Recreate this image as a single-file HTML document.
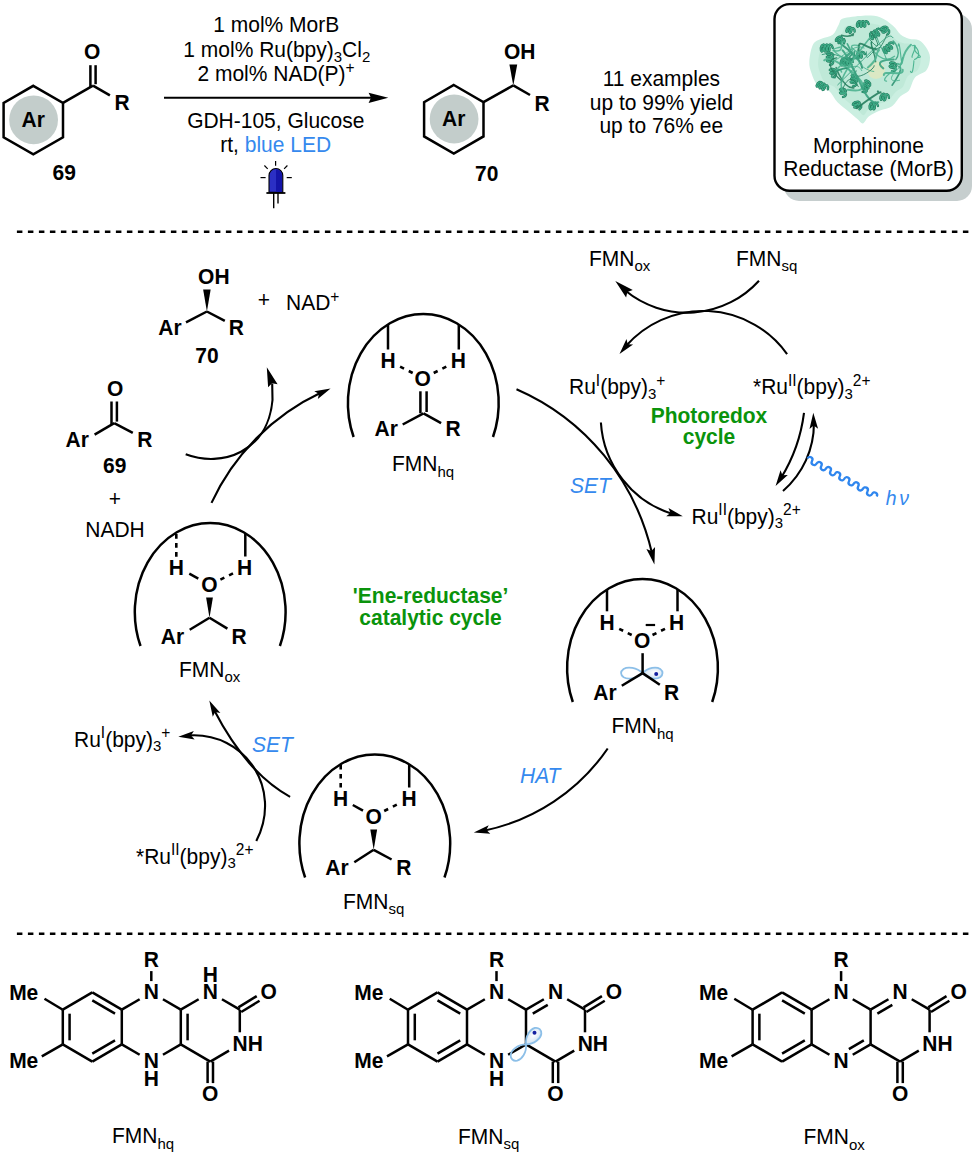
<!DOCTYPE html>
<html><head><meta charset="utf-8"><style>
html,body{margin:0;padding:0;background:#fff;}
svg{display:block;}
text{font-family:"Liberation Sans",sans-serif;}
</style></head><body>
<svg width="975" height="1156" viewBox="0 0 975 1156">
<rect width="975" height="1156" fill="#fff"/>
<line x1="16.9" y1="231.7" x2="969" y2="231.7" stroke="#000" stroke-width="2.6" stroke-dasharray="5.5 5.5"/>
<line x1="16.9" y1="933.8" x2="969" y2="933.8" stroke="#000" stroke-width="2.6" stroke-dasharray="5.5 5.5"/>
<circle cx="33.6" cy="119.8" r="24.4" fill="#c3cdcb"/>
<polygon points="33.3,85.8 63,102.95 63,137.25 33.3,154.4 3.6,137.25 3.6,102.95" fill="none" stroke="#000" stroke-width="2.5" stroke-linejoin="miter"/>
<text x="33.3" y="126.6" transform="translate(0 -4.43) scale(1 1.035)" font-size="21" font-weight="bold" text-anchor="middle" fill="#000" font-style="normal" >Ar</text>
<line x1="63" y1="102.95" x2="93" y2="85.6" stroke="#000" stroke-width="2.5" />
<line x1="90.4" y1="87" x2="90.4" y2="65.2" stroke="#000" stroke-width="2.5" />
<line x1="95.6" y1="84.2" x2="95.6" y2="65.2" stroke="#000" stroke-width="2.5" />
<text x="92.2" y="59.2" transform="translate(0 -2.07) scale(1 1.035)" font-size="21" font-weight="bold" text-anchor="middle" fill="#000" font-style="normal" >O</text>
<line x1="93" y1="85.6" x2="109.9" y2="95.4" stroke="#000" stroke-width="2.5" />
<text x="122.2" y="110.4" transform="translate(0 -3.86) scale(1 1.035)" font-size="21" font-weight="bold" text-anchor="middle" fill="#000" font-style="normal" >R</text>
<text x="64.3" y="180.5" transform="translate(0 -6.32) scale(1 1.035)" font-size="21" font-weight="bold" text-anchor="middle" fill="#000" font-style="normal" >69</text>
<line x1="164" y1="97.8" x2="375" y2="97.8" stroke="#000" stroke-width="2.1" />
<path d="M388.3,97.8 L368.6,102.9 L371,97.8 L368.6,92.7 Z" fill="#000"/>
<text x="276.3" y="32" transform="translate(0 -1.12) scale(1 1.035)" font-size="21" font-weight="normal" text-anchor="middle" fill="#000" font-style="normal" >1 mol% MorB</text>
<text x="276.8" y="56.9" transform="translate(0 -1.99) scale(1 1.035)" font-size="21" font-weight="normal" text-anchor="middle" fill="#000" font-style="normal" >1 mol% Ru(bpy)<tspan font-size="15" dy="4.6">3</tspan><tspan dy="-4.6">Cl</tspan><tspan font-size="15" dy="4.6">2</tspan></text>
<text x="276" y="81.2" transform="translate(0 -2.84) scale(1 1.035)" font-size="21" font-weight="normal" text-anchor="middle" fill="#000" font-style="normal" >2 mol% NAD(P)<tspan font-size="15.5" dy="-8.2">+</tspan></text>
<text x="275.8" y="127.7" transform="translate(0 -4.47) scale(1 1.035)" font-size="21" font-weight="normal" text-anchor="middle" fill="#000" font-style="normal" >GDH-105, Glucose</text>
<text x="275.7" y="152.2" transform="translate(0 -5.33) scale(1 1.035)" font-size="21" font-weight="normal" text-anchor="middle" fill="#000" font-style="normal" >rt, <tspan fill="#3589ee">blue LED</tspan></text>
<g>
<path d="M269,192.4 L269,175.5 A6.9,7 0 0 1 282.8,175.5 L282.8,192.4 Z" fill="#2b2fc4" stroke="#000" stroke-width="1.1"/>
<path d="M276,169.5 A6,6.5 0 0 1 282,175.5 L282,192 L276,192 Z" fill="#1414a8"/>
<line x1="266.4" y1="193" x2="285.4" y2="193" stroke="#000" stroke-width="1.8"/>
<line x1="273.7" y1="193" x2="273.7" y2="208.3" stroke="#000" stroke-width="1.4"/>
<line x1="278" y1="193" x2="278" y2="203.5" stroke="#000" stroke-width="1.4"/>
<line x1="275.6" y1="160.9" x2="275.6" y2="165.8" stroke="#000" stroke-width="1.2"/>
<line x1="264.4" y1="165.5" x2="267.7" y2="168.8" stroke="#000" stroke-width="1.2"/>
<line x1="287.4" y1="165.5" x2="284.1" y2="168.8" stroke="#000" stroke-width="1.2"/>
<line x1="260.5" y1="177.6" x2="265.6" y2="177.6" stroke="#000" stroke-width="1.2"/>
<line x1="286.7" y1="177.6" x2="291.8" y2="177.6" stroke="#000" stroke-width="1.2"/>
</g>
<circle cx="454.1" cy="119" r="24.4" fill="#c3cdcb"/>
<polygon points="453.8,85 483.5,102.15 483.5,136.45 453.8,153.6 424.1,136.45 424.1,102.15" fill="none" stroke="#000" stroke-width="2.5" stroke-linejoin="miter"/>
<text x="453.8" y="125.8" transform="translate(0 -4.4) scale(1 1.035)" font-size="21" font-weight="bold" text-anchor="middle" fill="#000" font-style="normal" >Ar</text>
<line x1="483.5" y1="102.15" x2="513.3" y2="85.4" stroke="#000" stroke-width="2.5" />
<path d="M513.3,85.4 L517.2,64.5 L509.4,64.5 Z" fill="#000"/>
<text x="519.8" y="59.5" transform="translate(0 -2.08) scale(1 1.035)" font-size="21" font-weight="bold" text-anchor="middle" fill="#000" font-style="normal" >OH</text>
<line x1="513.3" y1="85.4" x2="530" y2="95" stroke="#000" stroke-width="2.5" />
<text x="542" y="110.6" transform="translate(0 -3.87) scale(1 1.035)" font-size="21" font-weight="bold" text-anchor="middle" fill="#000" font-style="normal" >R</text>
<text x="486.8" y="180.8" transform="translate(0 -6.33) scale(1 1.035)" font-size="21" font-weight="bold" text-anchor="middle" fill="#000" font-style="normal" >70</text>
<text x="661.4" y="85.8" transform="translate(0 -3) scale(1 1.035)" font-size="21" font-weight="normal" text-anchor="middle" fill="#000" font-style="normal" >11 examples</text>
<text x="661.5" y="109.6" transform="translate(0 -3.84) scale(1 1.035)" font-size="21" font-weight="normal" text-anchor="middle" fill="#000" font-style="normal" >up to 99% yield</text>
<text x="661.3" y="133.1" transform="translate(0 -4.66) scale(1 1.035)" font-size="21" font-weight="normal" text-anchor="middle" fill="#000" font-style="normal" >up to 76% ee</text>
<rect x="784" y="14" width="188" height="187" rx="15" fill="#c6cece"/>
<rect x="774.5" y="4.1" width="187.3" height="186.6" rx="15" fill="#fff" stroke="#000" stroke-width="2.4"/>
<text x="868.5" y="152.8" transform="translate(0 -5.35) scale(1 1.035)" font-size="21" font-weight="normal" text-anchor="middle" fill="#000" font-style="normal" >Morphinone</text>
<text x="868.5" y="176.2" transform="translate(0 -6.17) scale(1 1.035)" font-size="21" font-weight="normal" text-anchor="middle" fill="#000" font-style="normal" >Reductase (MorB)</text>
<g><path d="M843,18.6 C847.03,17.15 856.83,15.93 863,15.7 C869.17,15.47 875,15.52 880,17.2 C885,18.88 889.58,22.93 893,25.8 C896.42,28.67 897.83,32.25 900.5,34.4 C903.17,36.55 905.92,37.73 909,38.7 C912.08,39.67 916.17,38.77 919,40.2 C921.83,41.63 924.17,44.43 926,47.3 C927.83,50.17 929.93,53.57 930,57.4 C930.07,61.23 928.9,66.95 926.4,70.3 C923.9,73.65 917.9,74.15 915,77.5 C912.1,80.85 911.42,87.28 909,90.4 C906.58,93.52 903.33,93.57 900.5,96.2 C897.67,98.83 895.42,103.82 892,106.2 C888.58,108.58 883.83,108.82 880,110.5 C876.17,112.18 871.83,114.15 869,116.3 C866.17,118.45 864.93,122.93 863,123.4 C861.07,123.87 860,121.25 857.4,119.1 C854.8,116.95 850.75,113.37 847.4,110.5 C844.05,107.63 840.42,105.25 837.3,101.9 C834.18,98.55 832.05,93.27 828.7,90.4 C825.35,87.53 820.07,87.57 817.2,84.7 C814.33,81.83 812.82,77.03 811.5,73.2 C810.18,69.37 809.05,66.48 809.3,61.7 C809.55,56.92 810.97,48.33 813,44.5 C815.03,40.67 818.17,40.38 821.5,38.7 C824.83,37.02 830.12,36.78 833,34.4 C835.88,32.02 837.13,27.03 838.8,24.4 C840.47,21.77 838.97,20.05 843,18.6 Z" fill="#cbefe1"/>
<path d="M846.75,26.01 C850.18,24.78 858.51,23.74 863.75,23.54 C868.99,23.35 873.95,23.39 878.2,24.82 C882.45,26.25 886.35,29.69 889.25,32.13 C892.15,34.57 893.36,37.61 895.62,39.44 C897.89,41.27 900.23,42.27 902.85,43.09 C905.47,43.92 908.94,43.15 911.35,44.37 C913.76,45.59 915.74,47.97 917.3,50.41 C918.86,52.84 920.64,55.73 920.7,58.99 C920.76,62.25 919.76,67.11 917.64,69.95 C915.51,72.8 910.42,73.23 907.95,76.08 C905.49,78.92 904.9,84.39 902.85,87.04 C900.8,89.69 898.03,89.73 895.62,91.97 C893.22,94.21 891.3,98.44 888.4,100.47 C885.5,102.5 881.46,102.69 878.2,104.12 C874.94,105.56 871.26,107.23 868.85,109.05 C866.44,110.88 865.39,114.69 863.75,115.09 C862.11,115.49 861.2,113.26 858.99,111.44 C856.78,109.61 853.34,106.56 850.49,104.12 C847.64,101.69 844.55,99.66 841.9,96.82 C839.26,93.97 837.44,89.48 834.6,87.04 C831.75,84.6 827.26,84.63 824.82,82.2 C822.38,79.76 821.09,75.68 819.97,72.42 C818.86,69.16 817.89,66.71 818.11,62.64 C818.32,58.58 819.52,51.28 821.25,48.02 C822.98,44.77 825.64,44.53 828.47,43.09 C831.31,41.66 835.8,41.47 838.25,39.44 C840.7,37.41 841.76,33.18 843.18,30.94 C844.6,28.7 843.32,27.24 846.75,26.01 Z" fill="#bfe9d8"/>
<ellipse cx="876" cy="70" rx="9" ry="9" fill="#dbe8c4"/>
<path d="M823.1,48 L822.93,50.52 L821.95,51.56 L820.97,50.52 L820.81,48 L821.78,45.48 L823.57,44.44 L825.36,45.48 L826.34,48 L826.17,50.52 L825.19,51.56 L824.21,50.52 L824.04,48 L825.02,45.48 L826.81,44.44 L828.6,45.48 L829.58,48 L829.41,50.52 L828.43,51.56 L827.45,50.52 L827.28,48 L828.26,45.48 L830.05,44.44 L831.83,45.48 L832.81,48 " fill="none" stroke="#1f7a5c" stroke-width="2.3" stroke-linejoin="round" stroke-linecap="round"/>
<path d="M823.1,48 L822.93,50.52 L821.95,51.56 L820.97,50.52 L820.81,48 L821.78,45.48 L823.57,44.44 L825.36,45.48 L826.34,48 L826.17,50.52 L825.19,51.56 L824.21,50.52 L824.04,48 L825.02,45.48 L826.81,44.44 L828.6,45.48 L829.58,48 L829.41,50.52 L828.43,51.56 L827.45,50.52 L827.28,48 L828.26,45.48 L830.05,44.44 L831.83,45.48 L832.81,48 " fill="none" stroke="#3fae88" stroke-width="1.1" stroke-linejoin="round" stroke-linecap="round"/>
<path d="M848.36,29.4 L847.62,31.29 L846.68,31.83 L846.31,30.81 L846.96,28.89 L848.48,27.29 L850.2,27.03 L851.35,28.34 L851.48,30.54 L850.74,32.42 L849.8,32.97 L849.43,31.94 L850.08,30.03 L851.6,28.43 L853.32,28.17 L854.47,29.48 L854.6,31.67 " fill="none" stroke="#1f7a5c" stroke-width="2.3" stroke-linejoin="round" stroke-linecap="round"/>
<path d="M848.36,29.4 L847.62,31.29 L846.68,31.83 L846.31,30.81 L846.96,28.89 L848.48,27.29 L850.2,27.03 L851.35,28.34 L851.48,30.54 L850.74,32.42 L849.8,32.97 L849.43,31.94 L850.08,30.03 L851.6,28.43 L853.32,28.17 L854.47,29.48 L854.6,31.67 " fill="none" stroke="#3fae88" stroke-width="1.1" stroke-linejoin="round" stroke-linecap="round"/>
<path d="M871.95,35.76 L873.03,37.8 L872.79,39.04 L871.6,38.63 L870.37,36.67 L870.06,34.19 L871.06,32.5 L873.03,32.47 L875.02,33.99 L876.1,36.03 L875.87,37.27 L874.67,36.86 L873.44,34.9 L873.13,32.41 L874.13,30.73 L876.1,30.7 L878.09,32.22 L879.17,34.26 L878.94,35.5 L877.74,35.08 L876.52,33.13 L876.2,30.64 L877.21,28.96 L879.17,28.93 L881.16,30.44 " fill="none" stroke="#1f7a5c" stroke-width="2.3" stroke-linejoin="round" stroke-linecap="round"/>
<path d="M871.95,35.76 L873.03,37.8 L872.79,39.04 L871.6,38.63 L870.37,36.67 L870.06,34.19 L871.06,32.5 L873.03,32.47 L875.02,33.99 L876.1,36.03 L875.87,37.27 L874.67,36.86 L873.44,34.9 L873.13,32.41 L874.13,30.73 L876.1,30.7 L878.09,32.22 L879.17,34.26 L878.94,35.5 L877.74,35.08 L876.52,33.13 L876.2,30.64 L877.21,28.96 L879.17,28.93 L881.16,30.44 " fill="none" stroke="#3fae88" stroke-width="1.1" stroke-linejoin="round" stroke-linecap="round"/>
<path d="M832.7,70.32 L830.73,70.62 L829.79,70.08 L830.48,69.26 L832.45,68.86 L834.57,69.36 L835.65,70.71 L835.09,72.34 L833.27,73.53 L831.29,73.83 L830.35,73.29 L831.05,72.47 L833.01,72.07 L835.13,72.58 L836.21,73.92 L835.66,75.55 L833.84,76.74 " fill="none" stroke="#1f7a5c" stroke-width="2.3" stroke-linejoin="round" stroke-linecap="round"/>
<path d="M832.7,70.32 L830.73,70.62 L829.79,70.08 L830.48,69.26 L832.45,68.86 L834.57,69.36 L835.65,70.71 L835.09,72.34 L833.27,73.53 L831.29,73.83 L830.35,73.29 L831.05,72.47 L833.01,72.07 L835.13,72.58 L836.21,73.92 L835.66,75.55 L833.84,76.74 " fill="none" stroke="#3fae88" stroke-width="1.1" stroke-linejoin="round" stroke-linecap="round"/>
<path d="M843,90.32 L840.88,90.25 L840.01,89.5 L840.88,88.75 L843,88.69 L845.12,89.59 L845.99,91.17 L845.12,92.75 L843,93.65 L840.88,93.58 L840.01,92.83 L840.88,92.09 L843,92.02 L845.12,92.92 L845.99,94.5 L845.12,96.08 L843,96.98 " fill="none" stroke="#1f7a5c" stroke-width="2.3" stroke-linejoin="round" stroke-linecap="round"/>
<path d="M843,90.32 L840.88,90.25 L840.01,89.5 L840.88,88.75 L843,88.69 L845.12,89.59 L845.99,91.17 L845.12,92.75 L843,93.65 L840.88,93.58 L840.01,92.83 L840.88,92.09 L843,92.02 L845.12,92.92 L845.99,94.5 L845.12,96.08 L843,96.98 " fill="none" stroke="#3fae88" stroke-width="1.1" stroke-linejoin="round" stroke-linecap="round"/>
<path d="M856.41,103.99 L854.21,105.06 L852.85,104.73 L853.25,103.39 L855.28,102.02 L857.87,101.61 L859.61,102.6 L859.6,104.61 L857.95,106.65 L855.75,107.72 L854.39,107.4 L854.78,106.06 L856.82,104.68 L859.41,104.27 L861.15,105.27 L861.14,107.27 L859.49,109.31 " fill="none" stroke="#1f7a5c" stroke-width="2.3" stroke-linejoin="round" stroke-linecap="round"/>
<path d="M856.41,103.99 L854.21,105.06 L852.85,104.73 L853.25,103.39 L855.28,102.02 L857.87,101.61 L859.61,102.6 L859.6,104.61 L857.95,106.65 L855.75,107.72 L854.39,107.4 L854.78,106.06 L856.82,104.68 L859.41,104.27 L861.15,105.27 L861.14,107.27 L859.49,109.31 " fill="none" stroke="#3fae88" stroke-width="1.1" stroke-linejoin="round" stroke-linecap="round"/>
<path d="M893.27,64.49 L890.98,63.97 L890.18,62.95 L891.29,62.27 L893.61,62.56 L895.74,63.9 L896.4,65.75 L895.15,67.26 L892.68,67.79 L890.4,67.27 L889.6,66.25 L890.7,65.57 L893.02,65.86 L895.16,67.2 L895.82,69.05 L894.57,70.56 L892.1,71.09 " fill="none" stroke="#1f7a5c" stroke-width="2.3" stroke-linejoin="round" stroke-linecap="round"/>
<path d="M893.27,64.49 L890.98,63.97 L890.18,62.95 L891.29,62.27 L893.61,62.56 L895.74,63.9 L896.4,65.75 L895.15,67.26 L892.68,67.79 L890.4,67.27 L889.6,66.25 L890.7,65.57 L893.02,65.86 L895.16,67.2 L895.82,69.05 L894.57,70.56 L892.1,71.09 " fill="none" stroke="#3fae88" stroke-width="1.1" stroke-linejoin="round" stroke-linecap="round"/>
<path d="M882.58,96.75 L882.06,99 L881.04,99.79 L880.36,98.7 L880.64,96.41 L881.96,94.3 L883.77,93.65 L885.25,94.88 L885.77,97.31 L885.25,99.56 L884.23,100.35 L883.55,99.26 L883.83,96.97 L885.14,94.86 L886.96,94.21 L888.44,95.44 L888.96,97.87 " fill="none" stroke="#1f7a5c" stroke-width="2.3" stroke-linejoin="round" stroke-linecap="round"/>
<path d="M882.58,96.75 L882.06,99 L881.04,99.79 L880.36,98.7 L880.64,96.41 L881.96,94.3 L883.77,93.65 L885.25,94.88 L885.77,97.31 L885.25,99.56 L884.23,100.35 L883.55,99.26 L883.83,96.97 L885.14,94.86 L886.96,94.21 L888.44,95.44 L888.96,97.87 " fill="none" stroke="#3fae88" stroke-width="1.1" stroke-linejoin="round" stroke-linecap="round"/>
<path d="M858.08,55.34 L858.41,57.32 L857.9,58.25 L857.1,57.55 L856.73,55.58 L857.27,53.44 L858.64,52.36 L860.31,52.91 L861.54,54.73 L861.87,56.71 L861.36,57.64 L860.56,56.94 L860.19,54.97 L860.73,52.83 L862.1,51.75 L863.77,52.3 L865,54.12 " fill="none" stroke="#1f7a5c" stroke-width="2.3" stroke-linejoin="round" stroke-linecap="round"/>
<path d="M858.08,55.34 L858.41,57.32 L857.9,58.25 L857.1,57.55 L856.73,55.58 L857.27,53.44 L858.64,52.36 L860.31,52.91 L861.54,54.73 L861.87,56.71 L861.36,57.64 L860.56,56.94 L860.19,54.97 L860.73,52.83 L862.1,51.75 L863.77,52.3 L865,54.12 " fill="none" stroke="#3fae88" stroke-width="1.1" stroke-linejoin="round" stroke-linecap="round"/>
<path d="M819.17,84.37 L817.99,86.24 L816.83,86.64 L816.6,85.44 L817.63,83.48 L819.53,82.02 L821.41,82.04 L822.37,83.65 L822.05,86.03 L820.87,87.91 L819.71,88.3 L819.48,87.1 L820.51,85.14 L822.41,83.68 L824.29,83.7 L825.24,85.31 L824.93,87.69 L823.75,89.57 L822.59,89.96 L822.35,88.76 L823.39,86.8 L825.29,85.34 L827.17,85.36 L828.12,86.98 L827.81,89.36 " fill="none" stroke="#1f7a5c" stroke-width="2.3" stroke-linejoin="round" stroke-linecap="round"/>
<path d="M819.17,84.37 L817.99,86.24 L816.83,86.64 L816.6,85.44 L817.63,83.48 L819.53,82.02 L821.41,82.04 L822.37,83.65 L822.05,86.03 L820.87,87.91 L819.71,88.3 L819.48,87.1 L820.51,85.14 L822.41,83.68 L824.29,83.7 L825.24,85.31 L824.93,87.69 L823.75,89.57 L822.59,89.96 L822.35,88.76 L823.39,86.8 L825.29,85.34 L827.17,85.36 L828.12,86.98 L827.81,89.36 " fill="none" stroke="#3fae88" stroke-width="1.1" stroke-linejoin="round" stroke-linecap="round"/>
<path d="M867.66,83.12 L865.72,81.89 L865.32,80.69 L866.56,80.44 L868.6,81.5 L870.11,83.47 L870.09,85.41 L868.42,86.4 L865.96,86.07 L864.02,84.84 L863.61,83.64 L864.86,83.39 L866.89,84.45 L868.41,86.42 L868.39,88.36 L866.72,89.35 L864.25,89.02 L862.31,87.79 L861.91,86.59 L863.15,86.34 L865.19,87.41 L866.7,89.38 L866.68,91.31 L865.01,92.3 L862.55,91.98 " fill="none" stroke="#1f7a5c" stroke-width="2.3" stroke-linejoin="round" stroke-linecap="round"/>
<path d="M867.66,83.12 L865.72,81.89 L865.32,80.69 L866.56,80.44 L868.6,81.5 L870.11,83.47 L870.09,85.41 L868.42,86.4 L865.96,86.07 L864.02,84.84 L863.61,83.64 L864.86,83.39 L866.89,84.45 L868.41,86.42 L868.39,88.36 L866.72,89.35 L864.25,89.02 L862.31,87.79 L861.91,86.59 L863.15,86.34 L865.19,87.41 L866.7,89.38 L866.68,91.31 L865.01,92.3 L862.55,91.98 " fill="none" stroke="#3fae88" stroke-width="1.1" stroke-linejoin="round" stroke-linecap="round"/>
<path d="M838.78,38.98 L837.22,40.68 L835.96,40.87 L835.92,39.59 L837.33,37.76 L839.54,36.6 L841.45,36.95 L842.13,38.78 L841.38,41.15 L839.81,42.86 L838.55,43.05 L838.51,41.77 L839.92,39.93 L842.13,38.77 L844.04,39.13 L844.72,40.95 L843.97,43.33 " fill="none" stroke="#1f7a5c" stroke-width="2.3" stroke-linejoin="round" stroke-linecap="round"/>
<path d="M838.78,38.98 L837.22,40.68 L835.96,40.87 L835.92,39.59 L837.33,37.76 L839.54,36.6 L841.45,36.95 L842.13,38.78 L841.38,41.15 L839.81,42.86 L838.55,43.05 L838.51,41.77 L839.92,39.93 L842.13,38.77 L844.04,39.13 L844.72,40.95 L843.97,43.33 " fill="none" stroke="#3fae88" stroke-width="1.1" stroke-linejoin="round" stroke-linecap="round"/>
<path d="M858.44,24 L858.41,26.04 L857.72,26.88 L857.03,26.04 L856.99,24 L857.88,21.96 L859.43,21.12 L860.98,21.96 L861.87,24 L861.83,26.04 L861.14,26.88 L860.45,26.04 L860.42,24 L861.31,21.96 L862.86,21.12 L864.4,21.96 L865.3,24 L865.26,26.04 L864.57,26.88 L863.88,26.04 L863.84,24 L864.74,21.96 L866.28,21.12 L867.83,21.96 L868.72,24 " fill="none" stroke="#1f7a5c" stroke-width="2.3" stroke-linejoin="round" stroke-linecap="round"/>
<path d="M858.44,24 L858.41,26.04 L857.72,26.88 L857.03,26.04 L856.99,24 L857.88,21.96 L859.43,21.12 L860.98,21.96 L861.87,24 L861.83,26.04 L861.14,26.88 L860.45,26.04 L860.42,24 L861.31,21.96 L862.86,21.12 L864.4,21.96 L865.3,24 L865.26,26.04 L864.57,26.88 L863.88,26.04 L863.84,24 L864.74,21.96 L866.28,21.12 L867.83,21.96 L868.72,24 " fill="none" stroke="#3fae88" stroke-width="1.1" stroke-linejoin="round" stroke-linecap="round"/>
<path d="M884.26,28.71 L882.18,29.78 L880.91,29.51 L881.31,28.27 L883.27,27 L885.76,26.65 L887.44,27.64 L887.45,29.59 L885.91,31.57 L883.83,32.63 L882.56,32.36 L882.96,31.13 L884.92,29.86 L887.41,29.51 L889.09,30.49 L889.1,32.44 L887.56,34.43 " fill="none" stroke="#1f7a5c" stroke-width="2.3" stroke-linejoin="round" stroke-linecap="round"/>
<path d="M884.26,28.71 L882.18,29.78 L880.91,29.51 L881.31,28.27 L883.27,27 L885.76,26.65 L887.44,27.64 L887.45,29.59 L885.91,31.57 L883.83,32.63 L882.56,32.36 L882.96,31.13 L884.92,29.86 L887.41,29.51 L889.09,30.49 L889.1,32.44 L887.56,34.43 " fill="none" stroke="#3fae88" stroke-width="1.1" stroke-linejoin="round" stroke-linecap="round"/>
<path d="M842.96,62 L842.82,64.42 L841.9,65.42 L840.98,64.42 L840.84,62 L841.8,59.58 L843.54,58.58 L845.28,59.58 L846.24,62 L846.1,64.42 L845.18,65.42 L844.26,64.42 L844.12,62 L845.08,59.58 L846.82,58.58 L848.56,59.58 L849.52,62 L849.38,64.42 L848.46,65.42 L847.54,64.42 L847.4,62 L848.36,59.58 L850.1,58.58 L851.84,59.58 L852.8,62 " fill="none" stroke="#1f7a5c" stroke-width="2.3" stroke-linejoin="round" stroke-linecap="round"/>
<path d="M842.96,62 L842.82,64.42 L841.9,65.42 L840.98,64.42 L840.84,62 L841.8,59.58 L843.54,58.58 L845.28,59.58 L846.24,62 L846.1,64.42 L845.18,65.42 L844.26,64.42 L844.12,62 L845.08,59.58 L846.82,58.58 L848.56,59.58 L849.52,62 L849.38,64.42 L848.46,65.42 L847.54,64.42 L847.4,62 L848.36,59.58 L850.1,58.58 L851.84,59.58 L852.8,62 " fill="none" stroke="#3fae88" stroke-width="1.1" stroke-linejoin="round" stroke-linecap="round"/>
<path d="M854.53,77.02 L852.39,76.54 L851.64,75.59 L852.67,74.95 L854.84,75.23 L856.84,76.48 L857.45,78.21 L856.28,79.62 L853.98,80.12 L851.85,79.64 L851.09,78.69 L852.13,78.05 L854.3,78.33 L856.29,79.58 L856.91,81.31 L855.74,82.73 L853.43,83.22 L851.3,82.74 L850.55,81.79 L851.58,81.15 L853.75,81.43 L855.74,82.69 L856.36,84.41 L855.19,85.83 L852.88,86.33 " fill="none" stroke="#1f7a5c" stroke-width="2.3" stroke-linejoin="round" stroke-linecap="round"/>
<path d="M854.53,77.02 L852.39,76.54 L851.64,75.59 L852.67,74.95 L854.84,75.23 L856.84,76.48 L857.45,78.21 L856.28,79.62 L853.98,80.12 L851.85,79.64 L851.09,78.69 L852.13,78.05 L854.3,78.33 L856.29,79.58 L856.91,81.31 L855.74,82.73 L853.43,83.22 L851.3,82.74 L850.55,81.79 L851.58,81.15 L853.75,81.43 L855.74,82.69 L856.36,84.41 L855.19,85.83 L852.88,86.33 " fill="none" stroke="#3fae88" stroke-width="1.1" stroke-linejoin="round" stroke-linecap="round"/>
<path d="M871.7,106 L871.55,108.38 L870.64,109.36 L869.73,108.38 L869.58,106 L870.51,103.62 L872.21,102.64 L873.91,103.62 L874.85,106 L874.7,108.38 L873.79,109.36 L872.87,108.38 L872.73,106 L873.66,103.62 L875.36,102.64 L877.06,103.62 L877.99,106 " fill="none" stroke="#1f7a5c" stroke-width="2.3" stroke-linejoin="round" stroke-linecap="round"/>
<path d="M871.7,106 L871.55,108.38 L870.64,109.36 L869.73,108.38 L869.58,106 L870.51,103.62 L872.21,102.64 L873.91,103.62 L874.85,106 L874.7,108.38 L873.79,109.36 L872.87,108.38 L872.73,106 L873.66,103.62 L875.36,102.64 L877.06,103.62 L877.99,106 " fill="none" stroke="#3fae88" stroke-width="1.1" stroke-linejoin="round" stroke-linecap="round"/>
<path d="M830,54.48 L827.72,54.41 L826.78,53.59 L827.72,52.78 L830,52.7 L832.28,53.66 L833.22,55.36 L832.28,57.05 L830,58.01 L827.72,57.93 L826.78,57.12 L827.72,56.31 L830,56.23 L832.28,57.19 L833.22,58.88 L832.28,60.57 L830,61.53 L827.72,61.46 L826.78,60.64 L827.72,59.83 L830,59.75 L832.28,60.71 L833.22,62.41 L832.28,64.1 L830,65.06 " fill="none" stroke="#1f7a5c" stroke-width="2.3" stroke-linejoin="round" stroke-linecap="round"/>
<path d="M830,54.48 L827.72,54.41 L826.78,53.59 L827.72,52.78 L830,52.7 L832.28,53.66 L833.22,55.36 L832.28,57.05 L830,58.01 L827.72,57.93 L826.78,57.12 L827.72,56.31 L830,56.23 L832.28,57.19 L833.22,58.88 L832.28,60.57 L830,61.53 L827.72,61.46 L826.78,60.64 L827.72,59.83 L830,59.75 L832.28,60.71 L833.22,62.41 L832.28,64.1 L830,65.06 " fill="none" stroke="#3fae88" stroke-width="1.1" stroke-linejoin="round" stroke-linecap="round"/>
<path d="M885.15,50.39 L886.5,52.06 L886.51,53.2 L885.38,52.99 L883.97,51.38 L883.31,49.13 L883.99,47.41 L885.81,47.04 L887.9,48.08 L889.25,49.75 L889.26,50.9 L888.13,50.69 L886.72,49.07 L886.06,46.83 L886.74,45.1 L888.56,44.74 L890.65,45.78 L892,47.44 L892.01,48.59 L890.88,48.38 L889.47,46.76 L888.81,44.52 L889.49,42.8 L891.3,42.43 L893.4,43.47 " fill="none" stroke="#1f7a5c" stroke-width="2.3" stroke-linejoin="round" stroke-linecap="round"/>
<path d="M885.15,50.39 L886.5,52.06 L886.51,53.2 L885.38,52.99 L883.97,51.38 L883.31,49.13 L883.99,47.41 L885.81,47.04 L887.9,48.08 L889.25,49.75 L889.26,50.9 L888.13,50.69 L886.72,49.07 L886.06,46.83 L886.74,45.1 L888.56,44.74 L890.65,45.78 L892,47.44 L892.01,48.59 L890.88,48.38 L889.47,46.76 L888.81,44.52 L889.49,42.8 L891.3,42.43 L893.4,43.47 " fill="none" stroke="#3fae88" stroke-width="1.1" stroke-linejoin="round" stroke-linecap="round"/>
<path d="M824.17,60.32 C831.37,50.58 890.19,97.04 847.65,89.7" fill="none" stroke="#4cb390" stroke-width="2.0" stroke-linecap="round" opacity="0.9"/>
<path d="M842.39,89.89 C847.15,77.26 852.23,75.74 858.29,86.58" fill="none" stroke="#27805f" stroke-width="1.0" stroke-linecap="round" opacity="0.9"/>
<path d="M883.31,68.33 C875.42,62.38 882.09,59.52 893.77,59.42" fill="none" stroke="#3aa27f" stroke-width="2.0" stroke-linecap="round" opacity="0.9"/>
<path d="M858.2,45.45 C848.03,43.51 849.44,49.28 863.06,54.4" fill="none" stroke="#4cb390" stroke-width="1.3" stroke-linecap="round" opacity="0.9"/>
<path d="M837.83,40.73 C837.41,43.23 860.27,55.14 862.13,67.83" fill="none" stroke="#2e9272" stroke-width="2.0" stroke-linecap="round" opacity="0.9"/>
<path d="M857.09,58.29 C845.98,62.05 833.73,49.94 822.18,54.54" fill="none" stroke="#2e9272" stroke-width="1.0" stroke-linecap="round" opacity="0.9"/>
<path d="M851.69,54.6 C841.13,64.37 854.93,63.42 854.48,51.82" fill="none" stroke="#2e9272" stroke-width="1.6" stroke-linecap="round" opacity="0.9"/>
<path d="M898.84,66.73 C904.22,67.19 895.97,79.85 892.09,85.17" fill="none" stroke="#2e9272" stroke-width="1.6" stroke-linecap="round" opacity="0.9"/>
<path d="M893.54,43.68 C889.81,34.36 903.49,50.94 895.73,59.67" fill="none" stroke="#3aa27f" stroke-width="1.3" stroke-linecap="round" opacity="0.9"/>
<path d="M837.21,70.87 C833.16,57.68 841.1,89.41 853.88,87.93" fill="none" stroke="#27805f" stroke-width="1.6" stroke-linecap="round" opacity="0.9"/>
<path d="M866.41,51.8 C865.92,65.39 869.01,51.44 880.47,47.07" fill="none" stroke="#2e9272" stroke-width="1.0" stroke-linecap="round" opacity="0.9"/>
<path d="M900.02,66.67 C891.02,74.77 886.33,83.19 899.53,80.27" fill="none" stroke="#4cb390" stroke-width="1.0" stroke-linecap="round" opacity="0.9"/>
<path d="M852.05,74.16 C841.72,60.56 854.9,64.75 855.65,76.89" fill="none" stroke="#4cb390" stroke-width="1.3" stroke-linecap="round" opacity="0.9"/>
<path d="M840.22,47.05 C832.96,49.47 826.22,47.21 852.45,64.57" fill="none" stroke="#4cb390" stroke-width="1.3" stroke-linecap="round" opacity="0.9"/>
<path d="M873.82,71.49 C860.34,69.82 851.47,55.93 859.85,46.75" fill="none" stroke="#4cb390" stroke-width="1.0" stroke-linecap="round" opacity="0.9"/>
<path d="M876.78,50.55 C877.29,52.11 885.25,41.08 886.94,34.04" fill="none" stroke="#27805f" stroke-width="1.0" stroke-linecap="round" opacity="0.9"/>
<path d="M902.67,69.82 C904.4,77.1 883.5,69.59 883.84,74.99" fill="none" stroke="#4cb390" stroke-width="2.0" stroke-linecap="round" opacity="0.9"/>
<path d="M870.93,42.25 C871.58,52.78 883.56,64.62 894.56,56.29" fill="none" stroke="#4cb390" stroke-width="1.3" stroke-linecap="round" opacity="0.9"/>
<path d="M860,57.59 C854.84,62.38 852.84,54.34 847.32,43.76" fill="none" stroke="#3aa27f" stroke-width="1.6" stroke-linecap="round" opacity="0.9"/>
<path d="M861.78,70.65 C857.28,62.13 852.2,68.36 838.74,69.87" fill="none" stroke="#4cb390" stroke-width="1.0" stroke-linecap="round" opacity="0.9"/>
<path d="M856.12,70.85 C850.39,83.75 874.39,70.57 874.24,65.72" fill="none" stroke="#27805f" stroke-width="1.0" stroke-linecap="round" opacity="0.9"/>
<path d="M841.27,80.47 C833.49,73.87 822.9,60.19 836.74,57.89" fill="none" stroke="#27805f" stroke-width="1.3" stroke-linecap="round" opacity="0.9"/>
<path d="M841.43,35.2 C853.53,38.8 854.4,30.57 852.88,35.39" fill="none" stroke="#27805f" stroke-width="1.6" stroke-linecap="round" opacity="0.9"/>
<path d="M871.71,42.04 C870.23,46.47 874.43,50.86 875.71,61.74" fill="none" stroke="#27805f" stroke-width="1.3" stroke-linecap="round" opacity="0.9"/>
<path d="M886.32,58.9 C882.05,46.42 871.68,34.4 878.43,27.56" fill="none" stroke="#3aa27f" stroke-width="1.0" stroke-linecap="round" opacity="0.9"/>
<path d="M843.83,41.67 C838.04,40.54 847.15,53.8 833.18,50.48" fill="none" stroke="#4cb390" stroke-width="1.6" stroke-linecap="round" opacity="0.9"/>
<path d="M870.33,37.3 C837.94,78.07 838.75,85.09 843.17,91.13" fill="none" stroke="#4cb390" stroke-width="1.6" stroke-linecap="round" opacity="0.9"/>
<path d="M896.48,68.38 C890.44,71.71 880.49,80.8 886.51,81.17" fill="none" stroke="#4cb390" stroke-width="1.3" stroke-linecap="round" opacity="0.9"/>
<path d="M878.22,102.17 C864.67,107.39 855.19,63.85 842.62,50.37" fill="none" stroke="#3aa27f" stroke-width="2.0" stroke-linecap="round" opacity="0.9"/>
<path d="M841.66,64.44 C829.62,76.55 840.76,65.12 841.49,72" fill="none" stroke="#4cb390" stroke-width="1.6" stroke-linecap="round" opacity="0.9"/>
<path d="M837.69,84.89 C885.94,37.02 888.73,32.31 892.97,37.71" fill="none" stroke="#3aa27f" stroke-width="1.0" stroke-linecap="round" opacity="0.9"/>
<path d="M867.89,67.49 C881.12,56.28 873.22,55.99 879.06,49.99" fill="none" stroke="#4cb390" stroke-width="2.0" stroke-linecap="round" opacity="0.9"/>
<path d="M875.89,49.04 C864.29,48.28 858.4,36.42 858.59,50.27" fill="none" stroke="#27805f" stroke-width="2.0" stroke-linecap="round" opacity="0.9"/>
<path d="M835.29,77.64 C825.25,78.31 837.93,68.02 846.9,68.27" fill="none" stroke="#2e9272" stroke-width="1.6" stroke-linecap="round" opacity="0.9"/>
<path d="M864.09,48.01 C854.03,43.64 848.88,53.16 834.93,60.18" fill="none" stroke="#4cb390" stroke-width="1.0" stroke-linecap="round" opacity="0.9"/>
<path d="M856.82,108.22 C889.44,83.31 879.61,96.5 877.82,91.33" fill="none" stroke="#27805f" stroke-width="2.0" stroke-linecap="round" opacity="0.9"/>
<path d="M897.88,63.79 C904.96,67.84 898.97,55.21 910.92,44.77" fill="none" stroke="#4cb390" stroke-width="2.0" stroke-linecap="round" opacity="0.9"/>
<path d="M851.24,47.56 C857.93,60.9 851.22,65.27 845.64,66.87" fill="none" stroke="#4cb390" stroke-width="1.0" stroke-linecap="round" opacity="0.9"/>
<path d="M869.65,39.32 C881.02,53.22 879.62,43.13 871.01,31.67" fill="none" stroke="#27805f" stroke-width="1.0" stroke-linecap="round" opacity="0.9"/>
<path d="M848.31,55.04 C856.98,46.7 843.54,57.08 840.26,63.96" fill="none" stroke="#3aa27f" stroke-width="2.0" stroke-linecap="round" opacity="0.9"/>
<path d="M902.59,57.54 q-0.02,1.19 -1.68,6.43 t0.29,6.16" fill="none" stroke="#4db592" stroke-width="1.1" stroke-linecap="round"/>
<path d="M912.43,45.67 q4.76,-1.85 1.75,5.16 t-1.88,6.26" fill="none" stroke="#4db592" stroke-width="1.1" stroke-linecap="round"/>
<path d="M914.46,46.29 q-0.9,4.22 3.65,7.84 t-0.1,3.29" fill="none" stroke="#4db592" stroke-width="1.1" stroke-linecap="round"/>
<path d="M913.81,60.71 q0.33,-0.51 -0.61,6.92 t-2.76,3.61" fill="none" stroke="#4db592" stroke-width="1.1" stroke-linecap="round"/>
<path d="M914.52,45.96 q3.9,3.22 4.16,7.47 t-4.15,6.11" fill="none" stroke="#4db592" stroke-width="1.1" stroke-linecap="round"/>
<path d="M898.02,46.26 q0.83,-7.4 2.58,7.81 t1.26,5.11" fill="none" stroke="#4db592" stroke-width="1.1" stroke-linecap="round"/></g>
<path d="M353.62,437 A75.4,89 0 1 1 492.98,437" fill="none" stroke="#000" stroke-width="2.5"/>
<line x1="388" y1="324.36" x2="388" y2="349.5" stroke="#000" stroke-width="2.5" />
<line x1="458.8" y1="324.48" x2="458.8" y2="349.5" stroke="#000" stroke-width="2.5" />
<text x="388.1" y="367.8" transform="translate(0 -12.87) scale(1 1.035)" font-size="21" font-weight="bold" text-anchor="middle" fill="#000" font-style="normal" >H</text>
<text x="458.3" y="367.8" transform="translate(0 -12.87) scale(1 1.035)" font-size="21" font-weight="bold" text-anchor="middle" fill="#000" font-style="normal" >H</text>
<line x1="400.1" y1="366.7" x2="412.7" y2="373" stroke="#000" stroke-width="2.6" stroke-dasharray="4.4 5.29"/>
<line x1="446.3" y1="366.7" x2="433.7" y2="373" stroke="#000" stroke-width="2.6" stroke-dasharray="4.4 5.29"/>
<text x="422.7" y="385.7" transform="translate(0 -13.5) scale(1 1.035)" font-size="21" font-weight="bold" text-anchor="middle" fill="#000" font-style="normal" >O</text>
<line x1="420.4" y1="391.3" x2="420.4" y2="413.3" stroke="#000" stroke-width="2.5" />
<line x1="426.6" y1="391.3" x2="426.6" y2="412" stroke="#000" stroke-width="2.5" />
<line x1="423.5" y1="413.3" x2="402.7" y2="424.5" stroke="#000" stroke-width="2.5" />
<line x1="423.5" y1="413.3" x2="441.1" y2="423.2" stroke="#000" stroke-width="2.5" />
<text x="386.3" y="436.5" transform="translate(0 -15.28) scale(1 1.035)" font-size="21" font-weight="bold" text-anchor="middle" fill="#000" font-style="normal" >Ar</text>
<text x="453.2" y="436.5" transform="translate(0 -15.28) scale(1 1.035)" font-size="21" font-weight="bold" text-anchor="middle" fill="#000" font-style="normal" >R</text>
<text x="392" y="471.5" transform="translate(0 -16.5) scale(1 1.035)" font-size="21" font-weight="normal" text-anchor="start" fill="#000" font-style="normal" >FMN<tspan font-size="15" dy="5">hq</tspan></text>
<path d="M140.52,646 A75.4,89 0 1 1 279.88,646" fill="none" stroke="#000" stroke-width="2.5"/>
<line x1="176.3" y1="556.7" x2="176.3" y2="532.5" stroke="#000" stroke-width="2.6" stroke-dasharray="4.6 4.4"/>
<line x1="245.3" y1="533.23" x2="245.3" y2="556.5" stroke="#000" stroke-width="2.5" />
<text x="176.3" y="574.7" transform="translate(0 -20.11) scale(1 1.035)" font-size="21" font-weight="bold" text-anchor="middle" fill="#000" font-style="normal" >H</text>
<text x="244.6" y="574.7" transform="translate(0 -20.11) scale(1 1.035)" font-size="21" font-weight="bold" text-anchor="middle" fill="#000" font-style="normal" >H</text>
<line x1="189.3" y1="573.7" x2="198.3" y2="578.6" stroke="#000" stroke-width="2.5" />
<line x1="233" y1="573.4" x2="220.4" y2="579.6" stroke="#000" stroke-width="2.6" stroke-dasharray="4.4 5.24"/>
<text x="209.5" y="592.4" transform="translate(0 -20.73) scale(1 1.035)" font-size="21" font-weight="bold" text-anchor="middle" fill="#000" font-style="normal" >O</text>
<path d="M209.5,617.8 L212.9,597.4 L206.1,597.4 Z" fill="#000"/>
<line x1="209.5" y1="617.8" x2="189.7" y2="629.7" stroke="#000" stroke-width="2.5" />
<line x1="209.5" y1="617.8" x2="227.4" y2="628.6" stroke="#000" stroke-width="2.5" />
<text x="172.5" y="644.5" transform="translate(0 -22.56) scale(1 1.035)" font-size="21" font-weight="bold" text-anchor="middle" fill="#000" font-style="normal" >Ar</text>
<text x="239.2" y="644.5" transform="translate(0 -22.56) scale(1 1.035)" font-size="21" font-weight="bold" text-anchor="middle" fill="#000" font-style="normal" >R</text>
<text x="179" y="677" transform="translate(0 -23.69) scale(1 1.035)" font-size="21" font-weight="normal" text-anchor="start" fill="#000" font-style="normal" >FMN<tspan font-size="15" dy="5">ox</tspan></text>
<path d="M305.12,877.5 A75.4,89 0 1 1 444.48,877.5" fill="none" stroke="#000" stroke-width="2.5"/>
<line x1="340.7" y1="787.5" x2="340.7" y2="764.12" stroke="#000" stroke-width="2.6" stroke-dasharray="4.6 4.4"/>
<line x1="409.2" y1="764.3" x2="409.2" y2="787.5" stroke="#000" stroke-width="2.5" />
<text x="340.7" y="806" transform="translate(0 -28.21) scale(1 1.035)" font-size="21" font-weight="bold" text-anchor="middle" fill="#000" font-style="normal" >H</text>
<text x="409.2" y="806" transform="translate(0 -28.21) scale(1 1.035)" font-size="21" font-weight="bold" text-anchor="middle" fill="#000" font-style="normal" >H</text>
<line x1="352.8" y1="805" x2="363" y2="810.6" stroke="#000" stroke-width="2.5" />
<line x1="396.8" y1="804.7" x2="384.2" y2="811" stroke="#000" stroke-width="2.6" stroke-dasharray="4.4 5.29"/>
<text x="373.7" y="823.8" transform="translate(0 -28.83) scale(1 1.035)" font-size="21" font-weight="bold" text-anchor="middle" fill="#000" font-style="normal" >O</text>
<path d="M373.7,849.8 L377.1,829.4 L370.3,829.4 Z" fill="#000"/>
<line x1="373.7" y1="849.8" x2="354.3" y2="862.3" stroke="#000" stroke-width="2.5" />
<line x1="373.7" y1="849.8" x2="391.6" y2="859.5" stroke="#000" stroke-width="2.5" />
<text x="337" y="875.5" transform="translate(0 -30.64) scale(1 1.035)" font-size="21" font-weight="bold" text-anchor="middle" fill="#000" font-style="normal" >Ar</text>
<text x="403.8" y="875.5" transform="translate(0 -30.64) scale(1 1.035)" font-size="21" font-weight="bold" text-anchor="middle" fill="#000" font-style="normal" >R</text>
<text x="343" y="909" transform="translate(0 -31.81) scale(1 1.035)" font-size="21" font-weight="normal" text-anchor="start" fill="#000" font-style="normal" >FMN<tspan font-size="15" dy="5">sq</tspan></text>
<path d="M572.82,702 A75.4,89 0 1 1 712.18,702" fill="none" stroke="#000" stroke-width="2.5"/>
<line x1="607" y1="589.48" x2="607" y2="611.3" stroke="#000" stroke-width="2.5" />
<line x1="677.5" y1="589.17" x2="677.5" y2="611.3" stroke="#000" stroke-width="2.5" />
<text x="607" y="629.7" transform="translate(0 -22.04) scale(1 1.035)" font-size="21" font-weight="bold" text-anchor="middle" fill="#000" font-style="normal" >H</text>
<text x="676.5" y="629.7" transform="translate(0 -22.04) scale(1 1.035)" font-size="21" font-weight="bold" text-anchor="middle" fill="#000" font-style="normal" >H</text>
<line x1="645.7" y1="625" x2="655.1" y2="625" stroke="#000" stroke-width="2.2" />
<line x1="619.2" y1="628.8" x2="631.7" y2="635" stroke="#000" stroke-width="2.6" stroke-dasharray="4.4 5.15"/>
<line x1="665" y1="628.8" x2="652.5" y2="635" stroke="#000" stroke-width="2.6" stroke-dasharray="4.4 5.15"/>
<text x="642.2" y="648" transform="translate(0 -22.68) scale(1 1.035)" font-size="21" font-weight="bold" text-anchor="middle" fill="#000" font-style="normal" >O</text>
<path transform="translate(642.6,673.1) rotate(180)" d="M0,0 C6,-6 15,-6.6 19,-4.2 C22.4,-1.8 22.4,1.8 19,4.2 C15,6.6 6,6 0,0 Z" fill="#fff" stroke="#8cbfe8" stroke-width="1.8"/>
<path transform="translate(642.6,673.1) rotate(0)" d="M0,0 C5.55,-6 13.88,-6.6 17.57,-4.2 C20.72,-1.8 20.72,1.8 17.57,4.2 C13.88,6.6 5.55,6 0,0 Z" fill="url(#lobeg)" stroke="#8cbfe8" stroke-width="1.8"/>
<circle cx="656.2" cy="674.1" r="2" fill="#1420a0"/>
<line x1="642.6" y1="653.2" x2="642.6" y2="673.1" stroke="#000" stroke-width="2.5" />
<line x1="642.6" y1="673.1" x2="621.8" y2="685.8" stroke="#000" stroke-width="2.5" />
<line x1="642.6" y1="673.1" x2="659.8" y2="684.8" stroke="#000" stroke-width="2.5" />
<text x="605" y="699.8" transform="translate(0 -24.49) scale(1 1.035)" font-size="21" font-weight="bold" text-anchor="middle" fill="#000" font-style="normal" >Ar</text>
<text x="671.7" y="699.8" transform="translate(0 -24.49) scale(1 1.035)" font-size="21" font-weight="bold" text-anchor="middle" fill="#000" font-style="normal" >R</text>
<text x="611.5" y="733.4" transform="translate(0 -25.67) scale(1 1.035)" font-size="21" font-weight="normal" text-anchor="start" fill="#000" font-style="normal" >FMN<tspan font-size="15" dy="5">hq</tspan></text>
<path d="M206.9,311.5 L210.65,289.4 L203.15,289.4 Z" fill="#000"/>
<text x="213.85" y="283.8" transform="translate(0 -9.93) scale(1 1.035)" font-size="21" font-weight="bold" text-anchor="middle" fill="#000" font-style="normal" >OH</text>
<line x1="206.9" y1="311.5" x2="186" y2="322.3" stroke="#000" stroke-width="2.5" />
<line x1="206.9" y1="311.5" x2="224.8" y2="320.8" stroke="#000" stroke-width="2.5" />
<text x="170" y="334.6" transform="translate(0 -11.71) scale(1 1.035)" font-size="21" font-weight="bold" text-anchor="middle" fill="#000" font-style="normal" >Ar</text>
<text x="236.3" y="334.6" transform="translate(0 -11.71) scale(1 1.035)" font-size="21" font-weight="bold" text-anchor="middle" fill="#000" font-style="normal" >R</text>
<text x="207" y="363.2" transform="translate(0 -12.71) scale(1 1.035)" font-size="21" font-weight="bold" text-anchor="middle" fill="#000" font-style="normal" >70</text>
<text x="263.8" y="307" transform="translate(0 -10.74) scale(1 1.035)" font-size="21" font-weight="normal" text-anchor="middle" fill="#000" font-style="normal" >+</text>
<text x="286" y="310" transform="translate(0 -10.85) scale(1 1.035)" font-size="21" font-weight="normal" text-anchor="start" fill="#000" font-style="normal" >NAD<tspan font-size="15.5" dy="-8.2">+</tspan></text>
<line x1="111.5" y1="424.6" x2="111.5" y2="401.5" stroke="#000" stroke-width="2.5" />
<line x1="116.9" y1="421.6" x2="116.9" y2="401.5" stroke="#000" stroke-width="2.5" />
<text x="115.1" y="395.8" transform="translate(0 -13.85) scale(1 1.035)" font-size="21" font-weight="bold" text-anchor="middle" fill="#000" font-style="normal" >O</text>
<line x1="114.2" y1="423.1" x2="94.6" y2="434.6" stroke="#000" stroke-width="2.5" />
<line x1="114.2" y1="423.1" x2="132.8" y2="432.8" stroke="#000" stroke-width="2.5" />
<text x="77.2" y="446.9" transform="translate(0 -15.64) scale(1 1.035)" font-size="21" font-weight="bold" text-anchor="middle" fill="#000" font-style="normal" >Ar</text>
<text x="144.8" y="446.9" transform="translate(0 -15.64) scale(1 1.035)" font-size="21" font-weight="bold" text-anchor="middle" fill="#000" font-style="normal" >R</text>
<text x="114.8" y="473.1" transform="translate(0 -16.56) scale(1 1.035)" font-size="21" font-weight="bold" text-anchor="middle" fill="#000" font-style="normal" >69</text>
<text x="115" y="505.5" transform="translate(0 -17.69) scale(1 1.035)" font-size="21" font-weight="normal" text-anchor="middle" fill="#000" font-style="normal" >+</text>
<text x="115" y="536.7" transform="translate(0 -18.78) scale(1 1.035)" font-size="21" font-weight="normal" text-anchor="middle" fill="#000" font-style="normal" >NADH</text>
<text x="589" y="266.2" transform="translate(0 -9.32) scale(1 1.035)" font-size="21" font-weight="normal" text-anchor="start" fill="#000" font-style="normal" >FMN<tspan font-size="15" dy="5">ox</tspan></text>
<text x="736" y="266" transform="translate(0 -9.31) scale(1 1.035)" font-size="21" font-weight="normal" text-anchor="start" fill="#000" font-style="normal" >FMN<tspan font-size="15" dy="5">sq</tspan></text>
<text x="569" y="394" transform="translate(0 -13.79) scale(1 1.035)" font-size="21" font-weight="normal" text-anchor="start" fill="#000" font-style="normal" >Ru<tspan font-size="15.5" dy="-8.2">I</tspan><tspan dy="8.2">(bpy)</tspan><tspan font-size="15" dy="4.4">3</tspan><tspan font-size="15.5" dy="-12.6">+</tspan></text>
<text x="753" y="394" transform="translate(0 -13.79) scale(1 1.035)" font-size="21" font-weight="normal" text-anchor="start" fill="#000" font-style="normal" >*Ru<tspan font-size="15.5" dy="-8.2">II</tspan><tspan dy="8.2">(bpy)</tspan><tspan font-size="15" dy="4.4">3</tspan><tspan font-size="15.5" dy="-12.6">2+</tspan></text>
<text x="709" y="422.6" transform="translate(0 -14.79) scale(1 1.035)" font-size="21" font-weight="bold" text-anchor="middle" fill="#0a930c" font-style="normal" >Photoredox</text>
<text x="709" y="444" transform="translate(0 -15.54) scale(1 1.035)" font-size="21" font-weight="bold" text-anchor="middle" fill="#0a930c" font-style="normal" >cycle</text>
<text x="691.5" y="523.7" transform="translate(0 -18.33) scale(1 1.035)" font-size="21" font-weight="normal" text-anchor="start" fill="#000" font-style="normal" >Ru<tspan font-size="15.5" dy="-8.2">II</tspan><tspan dy="8.2">(bpy)</tspan><tspan font-size="15" dy="4.4">3</tspan><tspan font-size="15.5" dy="-12.6">2+</tspan></text>
<text x="570" y="493.1" transform="translate(0 -17.26) scale(1 1.035)" font-size="21" font-weight="normal" text-anchor="start" fill="#3589ee" font-style="italic" >SET</text>
<text x="885.8" y="505.4" transform="translate(0 -17.69) scale(1 1.035)" font-size="19.5" font-weight="normal" text-anchor="start" fill="#3589ee" font-style="italic" >h<tspan dx="2.5">&#957;</tspan></text>
<text x="430.6" y="602.9" transform="translate(0 -21.1) scale(1 1.035)" font-size="21" font-weight="bold" text-anchor="middle" fill="#0a930c" font-style="normal" >'Ene-reductase&#8217;</text>
<text x="430.5" y="625.4" transform="translate(0 -21.89) scale(1 1.035)" font-size="21" font-weight="bold" text-anchor="middle" fill="#0a930c" font-style="normal" >catalytic cycle</text>
<text x="74" y="746.6" transform="translate(0 -26.13) scale(1 1.035)" font-size="21" font-weight="normal" text-anchor="start" fill="#000" font-style="normal" >Ru<tspan font-size="15.5" dy="-8.2">I</tspan><tspan dy="8.2">(bpy)</tspan><tspan font-size="15" dy="4.4">3</tspan><tspan font-size="15.5" dy="-12.6">+</tspan></text>
<text x="252" y="751.8" transform="translate(0 -26.31) scale(1 1.035)" font-size="21" font-weight="normal" text-anchor="start" fill="#3589ee" font-style="italic" >SET</text>
<text x="136" y="863.8" transform="translate(0 -30.23) scale(1 1.035)" font-size="21" font-weight="normal" text-anchor="start" fill="#000" font-style="normal" >*Ru<tspan font-size="15.5" dy="-8.2">II</tspan><tspan dy="8.2">(bpy)</tspan><tspan font-size="15" dy="4.4">3</tspan><tspan font-size="15.5" dy="-12.6">2+</tspan></text>
<text x="520" y="783" transform="translate(0 -27.4) scale(1 1.035)" font-size="21" font-weight="normal" text-anchor="start" fill="#3589ee" font-style="italic" >HAT</text>
<path d="M211.5,502.9 A227.57,227.57 0 0 1 321.18,392.57" fill="none" stroke="#000" stroke-width="2.1"/>
<path d="M330.6,388.4 L317.84,398.97 L318.96,393.73 L314.26,391.15 Z" fill="#000"/>
<path d="M516.5,389.2 C585.78,419.34 635.07,480.29 652.07,553.44" fill="none" stroke="#000" stroke-width="2.1"/>
<path d="M654.4,564.6 L646.44,548.95 L651.43,551.12 L655.04,547.05 Z" fill="#000"/>
<path d="M607.7,748.5 A198.13,198.13 0 0 1 483.94,830.7" fill="none" stroke="#000" stroke-width="2.1"/>
<path d="M473.8,832.5 L488.7,825.25 L486.37,830.08 L490.32,833.7 Z" fill="#000"/>
<path d="M290.1,796.9 C254.96,777.63 231.83,744.33 213.95,709.81" fill="none" stroke="#000" stroke-width="2.1"/>
<path d="M209.3,700.6 L220.42,712.88 L215.14,711.99 L212.77,716.8 Z" fill="#000"/>
<path d="M185.7,454.3 C222,468 268,452 272.5,400 L272.2,383.5" fill="none" stroke="#000" stroke-width="2.1" />
<path d="M266.8,367.2 L277.6,384.19 L272.07,383.36 L268.1,387.29 Z" fill="#000"/>
<path d="M600.9,422.5 C603.41,464.69 632.6,502.04 672.75,513.91" fill="none" stroke="#000" stroke-width="2.1"/>
<path d="M682.8,516.3 L666.23,516.29 L670.44,512.97 L668.47,507.99 Z" fill="#000"/>
<path d="M256.3,841 C283.17,788.62 244.84,731.7 188.59,735.46" fill="none" stroke="#000" stroke-width="2.1"/>
<path d="M178.3,736.8 L193.82,731 L191.04,735.59 L194.64,739.56 Z" fill="#000"/>
<path d="M759,280.7 A97.18,97.18 0 0 1 625.23,290.52" fill="none" stroke="#000" stroke-width="2.1"/>
<path d="M615.3,281.1 L632.78,290.07 L627.36,291.92 L626.1,297.51 Z" fill="#000"/>
<path d="M787.1,354.1 A102.94,102.94 0 0 0 625.89,346.03" fill="none" stroke="#000" stroke-width="2.1"/>
<path d="M619.5,354.1 L626.48,339.07 L627.72,344.29 L633.07,344.6 Z" fill="#000"/>
<path d="M804,412.8 A162.4,162.4 0 0 1 781.26,477.5" fill="none" stroke="#000" stroke-width="2.1"/>
<path d="M775.6,486.1 L780.53,470.28 L782.45,475.29 L787.8,474.89 Z" fill="#000"/>
<path d="M783,491 A89.17,89.17 0 0 0 813.94,423.07" fill="none" stroke="#000" stroke-width="2.1"/>
<path d="M813.3,412.8 L818.08,428.66 L813.69,425.59 L809.49,428.92 Z" fill="#000"/>
<path d="M807.4,458.5 C809.25,455.12 813.87,457.65 812.02,461.03 C810.17,464.42 814.79,466.95 816.64,463.57 C818.49,460.18 823.11,462.72 821.26,466.1 C819.41,469.48 824.03,472.02 825.88,468.63 C827.73,465.25 832.35,467.78 830.5,471.17 C828.65,474.55 833.27,477.08 835.12,473.7 C836.97,470.32 841.59,472.85 839.74,476.23 C837.89,479.62 842.51,482.15 844.36,478.77 C846.21,475.38 850.83,477.92 848.98,481.3 C847.13,484.68 851.75,487.22 853.6,483.83 C855.45,480.45 860.07,482.98 858.22,486.37 C856.37,489.75 860.99,492.28 862.84,488.9 C864.69,485.52 869.31,488.05 867.46,491.43 C865.61,494.82 870.23,497.35 872.08,493.97 C873.93,490.58 878.55,493.12 876.7,496.5" fill="none" stroke="#2f86ee" stroke-width="2.3" />
<line x1="92.3" y1="992.4" x2="121.8" y2="1009.7" stroke="#000" stroke-width="2.5" />
<line x1="121.8" y1="1009.7" x2="121.8" y2="1044.3" stroke="#000" stroke-width="2.5" />
<line x1="121.8" y1="1044.3" x2="92.3" y2="1061.6" stroke="#000" stroke-width="2.5" />
<line x1="92.3" y1="1061.6" x2="62.8" y2="1044.3" stroke="#000" stroke-width="2.5" />
<line x1="62.8" y1="1044.3" x2="62.8" y2="1009.7" stroke="#000" stroke-width="2.5" />
<line x1="62.8" y1="1009.7" x2="92.3" y2="992.4" stroke="#000" stroke-width="2.5" />
<line x1="92.3" y1="1000.36" x2="115.02" y2="1013.68" stroke="#000" stroke-width="2.5" />
<line x1="115.02" y1="1040.32" x2="92.3" y2="1053.64" stroke="#000" stroke-width="2.5" />
<line x1="69.58" y1="1040.32" x2="69.58" y2="1013.68" stroke="#000" stroke-width="2.5" />
<line x1="62.8" y1="1009.7" x2="44.5" y2="998.8" stroke="#000" stroke-width="2.5" />
<line x1="62.8" y1="1044.3" x2="41.8" y2="1056.3" stroke="#000" stroke-width="2.5" />
<text x="38.3" y="1000" transform="translate(0 -35) scale(1 1.035)" font-size="21" font-weight="bold" text-anchor="end" fill="#000" font-style="normal" >Me</text>
<text x="38.3" y="1067.9" transform="translate(0 -37.38) scale(1 1.035)" font-size="21" font-weight="bold" text-anchor="end" fill="#000" font-style="normal" >Me</text>
<line x1="121.8" y1="1009.7" x2="139.65" y2="999.23" stroke="#000" stroke-width="2.5" />
<line x1="162.95" y1="999.23" x2="180.8" y2="1009.7" stroke="#000" stroke-width="2.5" />
<line x1="121.8" y1="1044.3" x2="139.65" y2="1054.77" stroke="#000" stroke-width="2.5" />
<line x1="162.95" y1="1054.77" x2="180.8" y2="1044.3" stroke="#000" stroke-width="2.5" />
<line x1="180.8" y1="1009.7" x2="180.8" y2="1044.3" stroke="#000" stroke-width="2.5" />
<line x1="180.8" y1="1009.7" x2="198.65" y2="999.23" stroke="#000" stroke-width="2.5" />
<line x1="221.95" y1="999.23" x2="239.8" y2="1009.7" stroke="#000" stroke-width="2.5" />
<line x1="239.8" y1="1009.7" x2="239.8" y2="1032.3" stroke="#000" stroke-width="2.5" />
<line x1="229.02" y1="1050.62" x2="210.3" y2="1061.6" stroke="#000" stroke-width="2.5" />
<line x1="210.3" y1="1061.6" x2="180.8" y2="1044.3" stroke="#000" stroke-width="2.5" />
<text x="151.3" y="999.3" transform="translate(0 -34.98) scale(1 1.035)" font-size="21" font-weight="bold" text-anchor="middle" fill="#000" font-style="normal" >N</text>
<text x="210.3" y="999.3" transform="translate(0 -34.98) scale(1 1.035)" font-size="21" font-weight="bold" text-anchor="middle" fill="#000" font-style="normal" >N</text>
<text x="151.3" y="1068.5" transform="translate(0 -37.4) scale(1 1.035)" font-size="21" font-weight="bold" text-anchor="middle" fill="#000" font-style="normal" >N</text>
<line x1="151.3" y1="981.1" x2="151.3" y2="971.1" stroke="#000" stroke-width="2.5" />
<text x="151.3" y="967" transform="translate(0 -33.84) scale(1 1.035)" font-size="21" font-weight="bold" text-anchor="middle" fill="#000" font-style="normal" >R</text>
<text x="232.5" y="1051.2" transform="translate(0 -36.79) scale(1 1.035)" font-size="21" font-weight="bold" text-anchor="start" fill="#000" font-style="normal" >NH</text>
<line x1="238.39" y1="1007.4" x2="256.73" y2="996.14" stroke="#000" stroke-width="2.5" />
<line x1="241.21" y1="1012" x2="259.56" y2="1000.74" stroke="#000" stroke-width="2.5" />
<text x="268.8" y="998.8" transform="translate(0 -34.96) scale(1 1.035)" font-size="21" font-weight="bold" text-anchor="middle" fill="#000" font-style="normal" >O</text>
<line x1="207.6" y1="1061.6" x2="207.6" y2="1083.1" stroke="#000" stroke-width="2.5" />
<line x1="213" y1="1061.6" x2="213" y2="1083.1" stroke="#000" stroke-width="2.5" />
<text x="210.3" y="1101.5" transform="translate(0 -38.55) scale(1 1.035)" font-size="21" font-weight="bold" text-anchor="middle" fill="#000" font-style="normal" >O</text>
<line x1="187.59" y1="1013.68" x2="187.59" y2="1040.32" stroke="#000" stroke-width="2.5" />
<text x="210.3" y="981.8" transform="translate(0 -34.36) scale(1 1.035)" font-size="21" font-weight="bold" text-anchor="middle" fill="#000" font-style="normal" >H</text>
<text x="151.3" y="1086.5" transform="translate(0 -38.03) scale(1 1.035)" font-size="21" font-weight="bold" text-anchor="middle" fill="#000" font-style="normal" >H</text>
<text x="112" y="1143.5" transform="translate(0 -40.02) scale(1 1.035)" font-size="21" font-weight="normal" text-anchor="start" fill="#000" font-style="normal" >FMN<tspan font-size="15" dy="5">hq</tspan></text>
<line x1="437.5" y1="992.4" x2="467" y2="1009.7" stroke="#000" stroke-width="2.5" />
<line x1="467" y1="1009.7" x2="467" y2="1044.3" stroke="#000" stroke-width="2.5" />
<line x1="467" y1="1044.3" x2="437.5" y2="1061.6" stroke="#000" stroke-width="2.5" />
<line x1="437.5" y1="1061.6" x2="408" y2="1044.3" stroke="#000" stroke-width="2.5" />
<line x1="408" y1="1044.3" x2="408" y2="1009.7" stroke="#000" stroke-width="2.5" />
<line x1="408" y1="1009.7" x2="437.5" y2="992.4" stroke="#000" stroke-width="2.5" />
<line x1="437.5" y1="1000.36" x2="460.21" y2="1013.68" stroke="#000" stroke-width="2.5" />
<line x1="460.21" y1="1040.32" x2="437.5" y2="1053.64" stroke="#000" stroke-width="2.5" />
<line x1="414.79" y1="1040.32" x2="414.79" y2="1013.68" stroke="#000" stroke-width="2.5" />
<line x1="408" y1="1009.7" x2="389.7" y2="998.8" stroke="#000" stroke-width="2.5" />
<line x1="408" y1="1044.3" x2="387" y2="1056.3" stroke="#000" stroke-width="2.5" />
<text x="383.5" y="1000" transform="translate(0 -35) scale(1 1.035)" font-size="21" font-weight="bold" text-anchor="end" fill="#000" font-style="normal" >Me</text>
<text x="383.5" y="1067.9" transform="translate(0 -37.38) scale(1 1.035)" font-size="21" font-weight="bold" text-anchor="end" fill="#000" font-style="normal" >Me</text>
<line x1="467" y1="1009.7" x2="484.85" y2="999.23" stroke="#000" stroke-width="2.5" />
<line x1="508.15" y1="999.23" x2="526" y2="1009.7" stroke="#000" stroke-width="2.5" />
<line x1="467" y1="1044.3" x2="484.85" y2="1054.77" stroke="#000" stroke-width="2.5" />
<line x1="508.15" y1="1054.77" x2="526" y2="1044.3" stroke="#000" stroke-width="2.5" />
<line x1="526" y1="1009.7" x2="526" y2="1044.3" stroke="#000" stroke-width="2.5" />
<line x1="526" y1="1009.7" x2="543.85" y2="999.23" stroke="#000" stroke-width="2.5" />
<line x1="567.15" y1="999.23" x2="585" y2="1009.7" stroke="#000" stroke-width="2.5" />
<line x1="585" y1="1009.7" x2="585" y2="1032.3" stroke="#000" stroke-width="2.5" />
<line x1="574.22" y1="1050.62" x2="555.5" y2="1061.6" stroke="#000" stroke-width="2.5" />
<line x1="555.5" y1="1061.6" x2="526" y2="1044.3" stroke="#000" stroke-width="2.5" />
<text x="496.5" y="999.3" transform="translate(0 -34.98) scale(1 1.035)" font-size="21" font-weight="bold" text-anchor="middle" fill="#000" font-style="normal" >N</text>
<text x="555.5" y="999.3" transform="translate(0 -34.98) scale(1 1.035)" font-size="21" font-weight="bold" text-anchor="middle" fill="#000" font-style="normal" >N</text>
<text x="496.5" y="1068.5" transform="translate(0 -37.4) scale(1 1.035)" font-size="21" font-weight="bold" text-anchor="middle" fill="#000" font-style="normal" >N</text>
<line x1="496.5" y1="981.1" x2="496.5" y2="971.1" stroke="#000" stroke-width="2.5" />
<text x="496.5" y="967" transform="translate(0 -33.84) scale(1 1.035)" font-size="21" font-weight="bold" text-anchor="middle" fill="#000" font-style="normal" >R</text>
<text x="577.7" y="1051.2" transform="translate(0 -36.79) scale(1 1.035)" font-size="21" font-weight="bold" text-anchor="start" fill="#000" font-style="normal" >NH</text>
<line x1="583.59" y1="1007.4" x2="601.93" y2="996.14" stroke="#000" stroke-width="2.5" />
<line x1="586.41" y1="1012" x2="604.76" y2="1000.74" stroke="#000" stroke-width="2.5" />
<text x="614" y="998.8" transform="translate(0 -34.96) scale(1 1.035)" font-size="21" font-weight="bold" text-anchor="middle" fill="#000" font-style="normal" >O</text>
<line x1="552.8" y1="1061.6" x2="552.8" y2="1083.1" stroke="#000" stroke-width="2.5" />
<line x1="558.2" y1="1061.6" x2="558.2" y2="1083.1" stroke="#000" stroke-width="2.5" />
<text x="555.5" y="1101.5" transform="translate(0 -38.55) scale(1 1.035)" font-size="21" font-weight="bold" text-anchor="middle" fill="#000" font-style="normal" >O</text>
<line x1="532.78" y1="1013.68" x2="547.74" y2="1004.91" stroke="#000" stroke-width="2.5" />
<text x="496.5" y="1086.5" transform="translate(0 -38.03) scale(1 1.035)" font-size="21" font-weight="bold" text-anchor="middle" fill="#000" font-style="normal" >H</text>
<text x="458" y="1143.8" transform="translate(0 -40.03) scale(1 1.035)" font-size="21" font-weight="normal" text-anchor="start" fill="#000" font-style="normal" >FMN<tspan font-size="15" dy="5">sq</tspan></text>
<line x1="782.1" y1="992.4" x2="811.6" y2="1009.7" stroke="#000" stroke-width="2.5" />
<line x1="811.6" y1="1009.7" x2="811.6" y2="1044.3" stroke="#000" stroke-width="2.5" />
<line x1="811.6" y1="1044.3" x2="782.1" y2="1061.6" stroke="#000" stroke-width="2.5" />
<line x1="782.1" y1="1061.6" x2="752.6" y2="1044.3" stroke="#000" stroke-width="2.5" />
<line x1="752.6" y1="1044.3" x2="752.6" y2="1009.7" stroke="#000" stroke-width="2.5" />
<line x1="752.6" y1="1009.7" x2="782.1" y2="992.4" stroke="#000" stroke-width="2.5" />
<line x1="782.1" y1="1000.36" x2="804.82" y2="1013.68" stroke="#000" stroke-width="2.5" />
<line x1="804.82" y1="1040.32" x2="782.1" y2="1053.64" stroke="#000" stroke-width="2.5" />
<line x1="759.38" y1="1040.32" x2="759.38" y2="1013.68" stroke="#000" stroke-width="2.5" />
<line x1="752.6" y1="1009.7" x2="734.3" y2="998.8" stroke="#000" stroke-width="2.5" />
<line x1="752.6" y1="1044.3" x2="731.6" y2="1056.3" stroke="#000" stroke-width="2.5" />
<text x="728.1" y="1000" transform="translate(0 -35) scale(1 1.035)" font-size="21" font-weight="bold" text-anchor="end" fill="#000" font-style="normal" >Me</text>
<text x="728.1" y="1067.9" transform="translate(0 -37.38) scale(1 1.035)" font-size="21" font-weight="bold" text-anchor="end" fill="#000" font-style="normal" >Me</text>
<line x1="811.6" y1="1009.7" x2="829.45" y2="999.23" stroke="#000" stroke-width="2.5" />
<line x1="852.75" y1="999.23" x2="870.6" y2="1009.7" stroke="#000" stroke-width="2.5" />
<line x1="811.6" y1="1044.3" x2="829.45" y2="1054.77" stroke="#000" stroke-width="2.5" />
<line x1="852.75" y1="1054.77" x2="870.6" y2="1044.3" stroke="#000" stroke-width="2.5" />
<line x1="870.6" y1="1009.7" x2="870.6" y2="1044.3" stroke="#000" stroke-width="2.5" />
<line x1="870.6" y1="1009.7" x2="888.45" y2="999.23" stroke="#000" stroke-width="2.5" />
<line x1="911.75" y1="999.23" x2="929.6" y2="1009.7" stroke="#000" stroke-width="2.5" />
<line x1="929.6" y1="1009.7" x2="929.6" y2="1032.3" stroke="#000" stroke-width="2.5" />
<line x1="918.82" y1="1050.62" x2="900.1" y2="1061.6" stroke="#000" stroke-width="2.5" />
<line x1="900.1" y1="1061.6" x2="870.6" y2="1044.3" stroke="#000" stroke-width="2.5" />
<text x="841.1" y="999.3" transform="translate(0 -34.98) scale(1 1.035)" font-size="21" font-weight="bold" text-anchor="middle" fill="#000" font-style="normal" >N</text>
<text x="900.1" y="999.3" transform="translate(0 -34.98) scale(1 1.035)" font-size="21" font-weight="bold" text-anchor="middle" fill="#000" font-style="normal" >N</text>
<text x="841.1" y="1068.5" transform="translate(0 -37.4) scale(1 1.035)" font-size="21" font-weight="bold" text-anchor="middle" fill="#000" font-style="normal" >N</text>
<line x1="841.1" y1="981.1" x2="841.1" y2="971.1" stroke="#000" stroke-width="2.5" />
<text x="841.1" y="967" transform="translate(0 -33.84) scale(1 1.035)" font-size="21" font-weight="bold" text-anchor="middle" fill="#000" font-style="normal" >R</text>
<text x="922.3" y="1051.2" transform="translate(0 -36.79) scale(1 1.035)" font-size="21" font-weight="bold" text-anchor="start" fill="#000" font-style="normal" >NH</text>
<line x1="928.19" y1="1007.4" x2="946.53" y2="996.14" stroke="#000" stroke-width="2.5" />
<line x1="931.01" y1="1012" x2="949.36" y2="1000.74" stroke="#000" stroke-width="2.5" />
<text x="958.6" y="998.8" transform="translate(0 -34.96) scale(1 1.035)" font-size="21" font-weight="bold" text-anchor="middle" fill="#000" font-style="normal" >O</text>
<line x1="897.4" y1="1061.6" x2="897.4" y2="1083.1" stroke="#000" stroke-width="2.5" />
<line x1="902.8" y1="1061.6" x2="902.8" y2="1083.1" stroke="#000" stroke-width="2.5" />
<text x="900.1" y="1101.5" transform="translate(0 -38.55) scale(1 1.035)" font-size="21" font-weight="bold" text-anchor="middle" fill="#000" font-style="normal" >O</text>
<line x1="877.38" y1="1013.68" x2="892.34" y2="1004.91" stroke="#000" stroke-width="2.5" />
<line x1="863.82" y1="1040.32" x2="848.86" y2="1049.09" stroke="#000" stroke-width="2.5" />
<text x="803.5" y="1144.5" transform="translate(0 -40.06) scale(1 1.035)" font-size="21" font-weight="normal" text-anchor="start" fill="#000" font-style="normal" >FMN<tspan font-size="15" dy="5">ox</tspan></text>
<path transform="translate(526,1044.3) rotate(-48)" d="M0,0 C5.7,-6.3 14.25,-6.93 18.05,-4.41 C21.28,-1.89 21.28,1.89 18.05,4.41 C14.25,6.93 5.7,6.3 0,0 Z" fill="url(#lobeg)" stroke="#8cbfe8" stroke-width="1.8"/>
<path transform="translate(526,1044.3) rotate(132)" d="M0,0 C5.7,-6.3 14.25,-6.93 18.05,-4.41 C21.28,-1.89 21.28,1.89 18.05,4.41 C14.25,6.93 5.7,6.3 0,0 Z" fill="none" stroke="#8cbfe8" stroke-width="1.8"/>
<circle cx="534.5" cy="1032.7" r="2" fill="#1420a0"/>
<defs><radialGradient id="lobeg" cx="0.6" cy="0.45" r="0.7"><stop offset="0" stop-color="#ffffff"/><stop offset="1" stop-color="#c5dcf0"/></radialGradient></defs>
</svg></body></html>
